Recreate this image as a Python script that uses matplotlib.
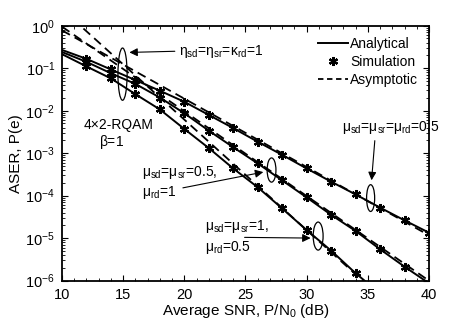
import matplotlib
matplotlib.use('Agg')
import matplotlib.pyplot as plt
from matplotlib.patches import Ellipse
from matplotlib.lines import Line2D
from matplotlib.ticker import MultipleLocator, LogLocator, NullFormatter, FixedLocator
from matplotlib import font_manager

names = {f.name for f in font_manager.fontManager.ttflist}
narrow = [n for n in ['Liberation Sans Narrow', 'DejaVu Sans Condensed', 'Liberation Sans'] if n in names]
plt.rcParams['font.family'] = narrow + ['DejaVu Sans']
plt.rcParams['mathtext.fontset'] = 'custom'
plt.rcParams['mathtext.rm'] = narrow[0]
plt.rcParams['mathtext.it'] = narrow[0]
plt.rcParams['mathtext.default'] = 'regular'

# SNR grid (dB)
snr = [10, 12, 14, 16, 18, 20, 22, 24, 26, 28, 30, 32, 34, 36, 38, 40]

# analytical ASER
aser_all05 = [0.269, 0.166, 0.0933, 0.0525, 0.0295, 0.0162, 7.94e-3, 3.89e-3,
              1.86e-3, 9.12e-4, 4.37e-4, 2.14e-4, 1.07e-4, 5.25e-5, 2.63e-5, 1.35e-5]
aser_rd1 = [0.240, 0.141, 0.0759, 0.0427, 0.0204, 8.71e-3, 3.39e-3, 1.38e-3,
            5.75e-4, 2.29e-4, 9.12e-5, 3.55e-5, 1.48e-5, 5.5e-6, 2.14e-6, 8.7e-7]
aser_sdsr1 = [0.214, 0.110, 0.0575, 0.0245, 0.0107, 3.72e-3, 1.32e-3, 4.37e-4,
              1.58e-4, 5.0e-5, 1.55e-5, 5.1e-6, 1.5e-6, 5.0e-7, 1.6e-7, 5.0e-8]

# asymptotic lines (straight on log scale), values at 10 and 40 dB
snr_asym = [10, 40]
asym_all05 = [0.776, 1.17e-5]
asym_rd1 = [0.95, 1.0e-6]
asym_sdsr1 = [2.45, 3.9e-8]

y_ticks = [1e-6, 1e-5, 1e-4, 1e-3, 1e-2, 1e-1, 1]

fig = plt.figure(figsize=(4.74, 3.27), dpi=100)
ax = fig.add_axes([0.1308, 0.1416, 0.7742, 0.7798])

star = (6, 2, 0)
for y in [aser_all05, aser_rd1, aser_sdsr1]:
    ax.semilogy(snr, y, color='black', lw=1.4)
    ax.semilogy(snr[1:], y[1:], ls='none', marker=star, ms=6.5, mew=1.6, color='black')
for y in [asym_all05, asym_rd1, asym_sdsr1]:
    ax.semilogy(snr_asym, y, color='black', lw=1.3, ls=(0, (5, 3)))

ax.set_xlim(10, 40)
ax.set_ylim(1e-6, 1)
ax.xaxis.set_major_locator(MultipleLocator(5))
ax.xaxis.set_minor_locator(MultipleLocator(1))
ax.yaxis.set_major_locator(FixedLocator(y_ticks))
ax.yaxis.set_minor_locator(LogLocator(base=10, subs=range(2, 10), numticks=20))
ax.yaxis.set_minor_formatter(NullFormatter())
ax.tick_params(which='both', direction='in', top=True, right=True, labelsize=10.5)
ax.tick_params(which='major', length=4, pad=5)
ax.tick_params(which='minor', length=2)
for s in ax.spines.values():
    s.set_linewidth(1.3)

ax.set_xlabel('Average SNR, P/N$_0$ (dB)', fontsize=11, labelpad=0)
ax.set_ylabel('ASER, P(e)', fontsize=11, labelpad=2)

# legend
handles = [Line2D([], [], color='black', lw=1.4),
           Line2D([], [], color='black', ls='none', marker=star, ms=6.5, mew=1.6),
           Line2D([], [], color='black', lw=1.3, ls=(0, (3, 2)))]
ax.legend(handles, ['Analytical', 'Simulation', 'Asymptotic'], loc='upper right',
          frameon=False, fontsize=10, handlelength=2.2, handletextpad=0.1,
          labelspacing=0.3, borderaxespad=0.4)

ax.text(0.06, 0.61, '4×2-RQAM', transform=ax.transAxes, fontsize=10, va='center')
ax.text(0.10, 0.542, r'$\beta$=1', transform=ax.transAxes, fontsize=10, va='center')

arrow = dict(arrowstyle='-|>', color='black', lw=0.8, mutation_scale=12)

# ellipses (axes fraction)
for cx, cy, w, h in [(0.165, 0.81, 0.025, 0.205),
                     (0.841, 0.324, 0.022, 0.105),
                     (0.571, 0.434, 0.024, 0.095),
                     (0.698, 0.175, 0.027, 0.11)]:
    ax.add_patch(Ellipse((cx, cy), w, h, transform=ax.transAxes,
                         fill=False, lw=0.9, color='black'))

ax.annotate('', xy=(0.176, 0.895), xytext=(0.315, 0.9),
            xycoords='axes fraction', arrowprops=arrow)
ax.text(0.318, 0.9, r'$\eta_{sd}$=$\eta_{sr}$=$\kappa_{rd}$=1',
        transform=ax.transAxes, fontsize=10, va='center')

ax.text(0.763, 0.6, r'$\mu_{sd}$=$\mu_{sr}$=$\mu_{rd}$=0.5',
        transform=ax.transAxes, fontsize=10, va='center')
ax.annotate('', xy=(0.843, 0.383), xytext=(0.853, 0.56),
            xycoords='axes fraction', arrowprops=arrow)

ax.text(0.218, 0.385, r'$\mu_{sd}$=$\mu_{sr}$=0.5,' + '\n' + r'$\mu_{rd}$=1',
        transform=ax.transAxes, fontsize=10, va='center', linespacing=1.3)
ax.annotate('', xy=(0.556, 0.428), xytext=(0.322, 0.362),
            xycoords='axes fraction', arrowprops=arrow)

ax.text(0.39, 0.172, r'$\mu_{sd}$=$\mu_{sr}$=1,' + '\n' + r'$\mu_{rd}$=0.5',
        transform=ax.transAxes, fontsize=10, va='center', linespacing=1.3)
ax.annotate('', xy=(0.685, 0.167), xytext=(0.49, 0.17),
            xycoords='axes fraction', arrowprops=arrow)

fig.savefig('out.png', dpi=100)
